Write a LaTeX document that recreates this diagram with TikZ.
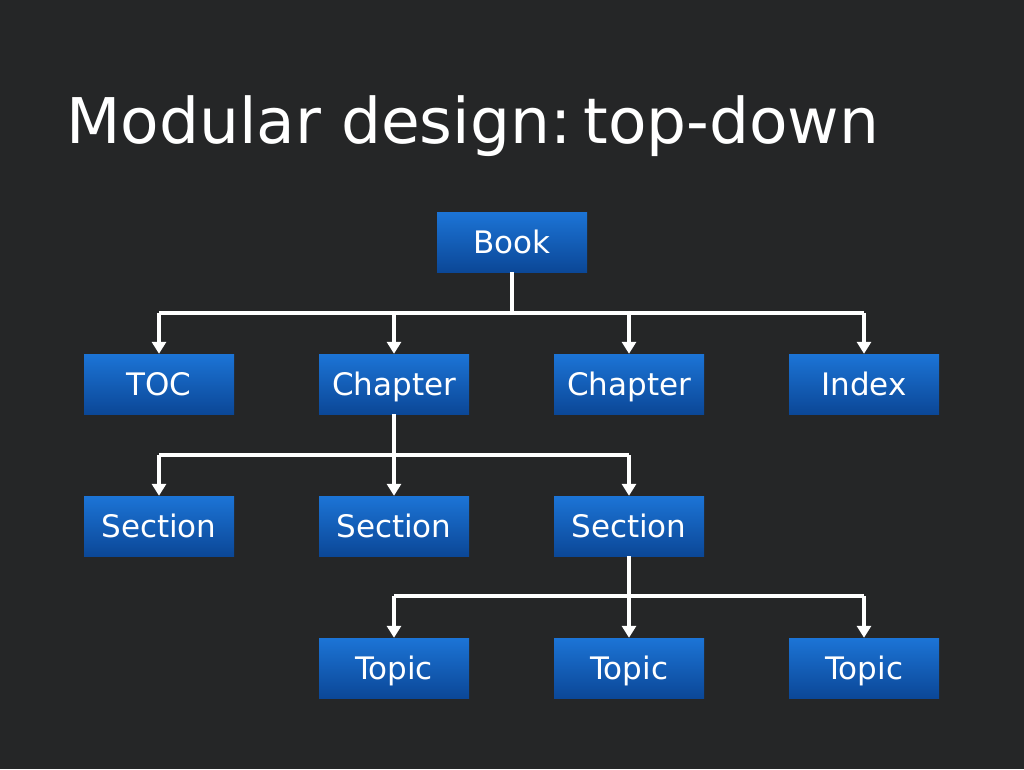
\documentclass[tikz,border=0pt]{standalone}
\usepackage{fontspec}
\setmainfont{DejaVu Sans}
\usetikzlibrary{arrows.meta}
\definecolor{bg}{HTML}{252627}
\definecolor{btop}{HTML}{1C74D6}
\definecolor{bbot}{HTML}{0B4797}
\begin{document}
\begin{tikzpicture}[x=1pt,y=-1pt,
  box/.style={minimum width=150pt,minimum height=60pt,inner sep=0pt,text height=22pt,text depth=0pt,top color=btop,bottom color=bbot,draw=none,text=white,font=\fontsize{31}{32}\selectfont},
  conn/.style={draw=white,line width=3.5pt},
  arr/.style={conn,-{Triangle[width=14pt,length=12pt]}}]
\fill[bg] (0,0) rectangle (1024,769);
\useasboundingbox (0,0) rectangle (1024,769);
\node[anchor=base west,text=white,font=\fontsize{63}{64}\selectfont,inner sep=0pt] (title) at (66,143) {Modular design:\kern-8pt\ top-down};
\node[box] (book) at (512,242) {Book};
\node[box] (toc) at (159,384) {TOC};
\node[box] (ch1) at (394,384) {Chapter};
\node[box] (ch2) at (629,384) {Chapter};
\node[box] (idx) at (864,384) {Index};
\node[box] (s1) at (159,526) {Section};
\node[box] (s2) at (394,526) {Section};
\node[box] (s3) at (629,526) {Section};
\node[box] (t1) at (394,668) {Topic};
\node[box] (t2) at (629,668) {Topic};
\node[box] (t3) at (864,668) {Topic};
\coordinate (j1) at (512,313);
\coordinate (j2) at (394,455);
\coordinate (j3) at (629,596);
\draw[conn] (book.south) -- (j1);
\draw[conn] (159,313) -- (864,313);
\foreach \n in {toc,ch1,ch2,idx} \draw[arr] (\n.north |- j1) -- (\n.north);
\draw[conn] (ch1.south) -- (j2);
\draw[conn] (159,455) -- (629,455);
\foreach \n in {s1,s2,s3} \draw[arr] (\n.north |- j2) -- (\n.north);
\draw[conn] (s3.south) -- (j3);
\draw[conn] (394,596) -- (864,596);
\foreach \n in {t1,t2,t3} \draw[arr] (\n.north |- j3) -- (\n.north);
\end{tikzpicture}
\end{document}
